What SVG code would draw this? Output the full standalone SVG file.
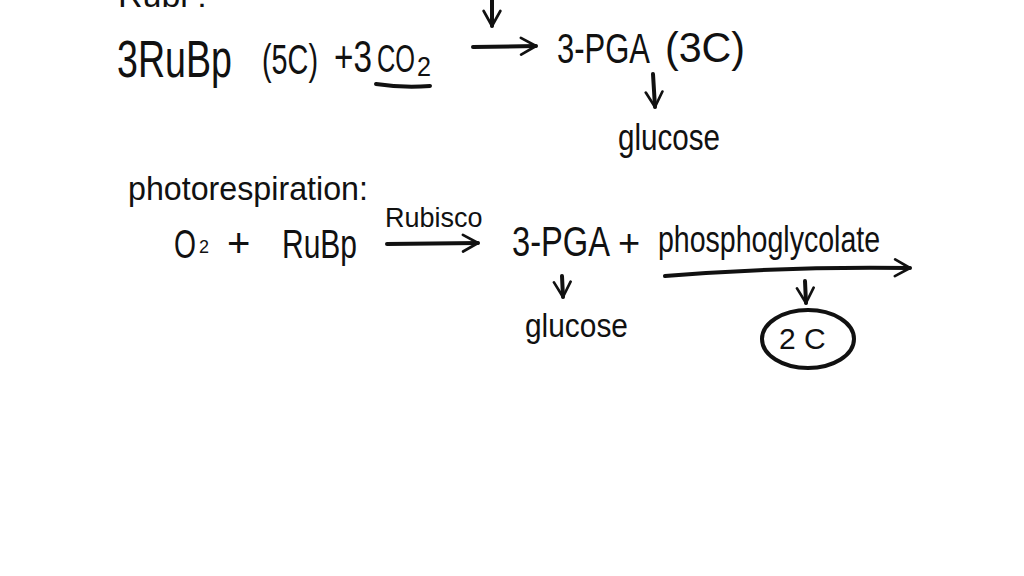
<svg xmlns="http://www.w3.org/2000/svg" width="1024" height="576" viewBox="0 0 1024 576">
<style>
  text { font-family: "Liberation Sans", Arial, sans-serif; fill: #111; }
  .ln { stroke: #111; stroke-width: 4; fill: none; stroke-linecap: round; stroke-linejoin: round; }
</style>
<defs>
  <marker id="ah" viewBox="0 0 12 12" refX="10" refY="6" markerWidth="5" markerHeight="5" orient="auto" markerUnits="strokeWidth">
    <path d="M1,1 L10,6 L1,11" fill="none" stroke="#111" stroke-width="1.6" stroke-linecap="round" stroke-linejoin="round"/>
  </marker>
</defs>
<rect width="1024" height="576" fill="#fff"/>

<g id="top-label">
  <text x="118" y="7" font-size="34">Rubi :</text>
</g>

<g id="rubp-co2">
  <text transform="translate(117,77) scale(0.723,1)" font-size="52">3RuBp</text>
  <text transform="translate(262,74) scale(0.686,1)" font-size="42">(5C)</text>
  <text transform="translate(334,72) scale(0.757,1)" font-size="44">+3</text>
  <text transform="translate(377,72) scale(0.667,1)" font-size="38">CO</text>
  <text transform="translate(417,76) scale(0.9,1)" font-size="28">2</text>
  <path class="ln" d="M376,84 Q402,88 430,86"/>
</g>

<g id="pga1">
  <text transform="translate(557,63) scale(0.738,1)" font-size="42">3-PGA</text>
  <text transform="translate(665,62) scale(0.98,1)" font-size="42">(3C)</text>
</g>

<g id="glucose1">
  <text transform="translate(618,150) scale(0.822,1)" font-size="36">glucose</text>
</g>

<g id="photoresp-label">
  <text transform="translate(128,200) scale(0.948,1)" font-size="34">photorespiration:</text>
</g>

<g id="o2-rubp">
  <text transform="translate(174,258) scale(0.707,1)" font-size="40">O</text>
  <text x="199" y="253" font-size="18">2</text>
  <text x="227" y="257" font-size="40">+</text>
  <text transform="translate(282,258) scale(0.75,1)" font-size="40">RuBp</text>
</g>

<g id="rubisco-label">
  <text x="385" y="227" font-size="27">Rubisco</text>
</g>

<g id="pga2">
  <text transform="translate(512,256) scale(0.778,1)" font-size="42">3-PGA</text>
  <text x="618" y="256" font-size="38">+</text>
</g>

<g id="phosphoglycolate">
  <text transform="translate(658,252) scale(0.793,1)" font-size="36">phosphoglycolate</text>
</g>

<g id="glucose2">
  <text transform="translate(525,337) scale(0.879,1)" font-size="34">glucose</text>
</g>

<g id="two-c">
  <ellipse class="ln" cx="808" cy="339" rx="46" ry="29"/>
  <text x="779" y="349" font-size="30">2 C</text>
</g>

<g id="connectors">
  <path class="ln" d="M492,0 L492,26" marker-end="url(#ah)"/>
  <path class="ln" d="M473,47 L536,46" marker-end="url(#ah)"/>
  <path class="ln" d="M653,74 L655,107" marker-end="url(#ah)"/>
  <path class="ln" d="M387,244 L478,243" marker-end="url(#ah)"/>
  <path class="ln" d="M562,276 L563,297" marker-end="url(#ah)"/>
  <path class="ln" d="M665,276 Q790,266 910,268" marker-end="url(#ah)"/>
  <path class="ln" d="M805,281 L806,303" marker-end="url(#ah)"/>
</g>
</svg>
